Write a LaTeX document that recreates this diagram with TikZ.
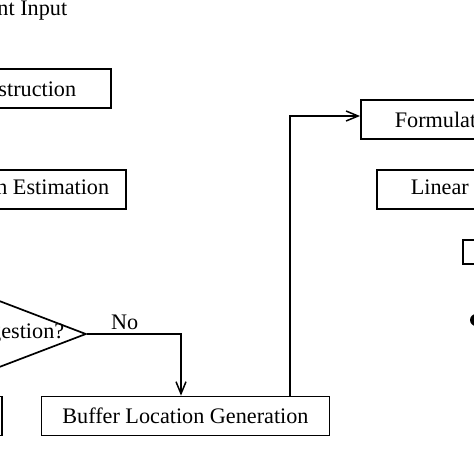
\documentclass[tikz,border=0pt]{standalone}
\usepackage{fontspec}
\setmainfont{Liberation Serif}
\usetikzlibrary{shapes.geometric,arrows.meta}

\begin{document}
\begin{tikzpicture}[x=1pt,y=-1pt,line width=1.7pt,font=\fontsize{22.2}{26}\selectfont,
  >={Straight Barb[length=12pt,width=10pt,line width=1.5pt]}]
  \tikzstyle{block}=[draw,minimum height=39pt,inner xsep=34pt,inner ysep=0pt]
  \tikzstyle{decision}=[draw,diamond,aspect=2.6,inner sep=0pt,minimum width=232pt,minimum height=89pt]

  \useasboundingbox (0,0) rectangle (474,474);

  % left column
  \node[anchor=base east,inner sep=0pt] (input) at (68,15) {Placement Input};
  \node[block,anchor=east,inner xsep=35pt] (tree) at (112,88.5) {Initial Tree Construction};
  \node[block,anchor=east,inner xsep=17pt] (est) at (127,189.5) {Routing Congestion Estimation};
  \node[decision,anchor=east] (check) at (87,334) {\makebox[150pt]{Routing Congestion?}};
  \node[block,anchor=east] (reroute) at (3,416) {Reroute Nets};
  \node[block,minimum width=288pt,inner xsep=0pt] (buffer) at (185.5,416) {Buffer Location Generation};

  % right column
  \node[block,anchor=west] (ilp) at (360,119.5) {Formulate ILP Problem};
  \node[block,anchor=west] (lp) at (376,189.5) {Linear Programming Relaxation};
  \node[block,anchor=west,minimum height=24pt] (round) at (462,252) {Rounding};
  \node[circle,fill,minimum size=12pt,inner sep=0pt] (stop) at (476,320) {};

  \draw[->] (check.east) -| node[pos=0.2,above] {No} ([xshift=-4.5pt]buffer.north);
  \draw[->] ([xshift=104.5pt]buffer.north) |- ([yshift=3.5pt]ilp.west);
\end{tikzpicture}
\end{document}
